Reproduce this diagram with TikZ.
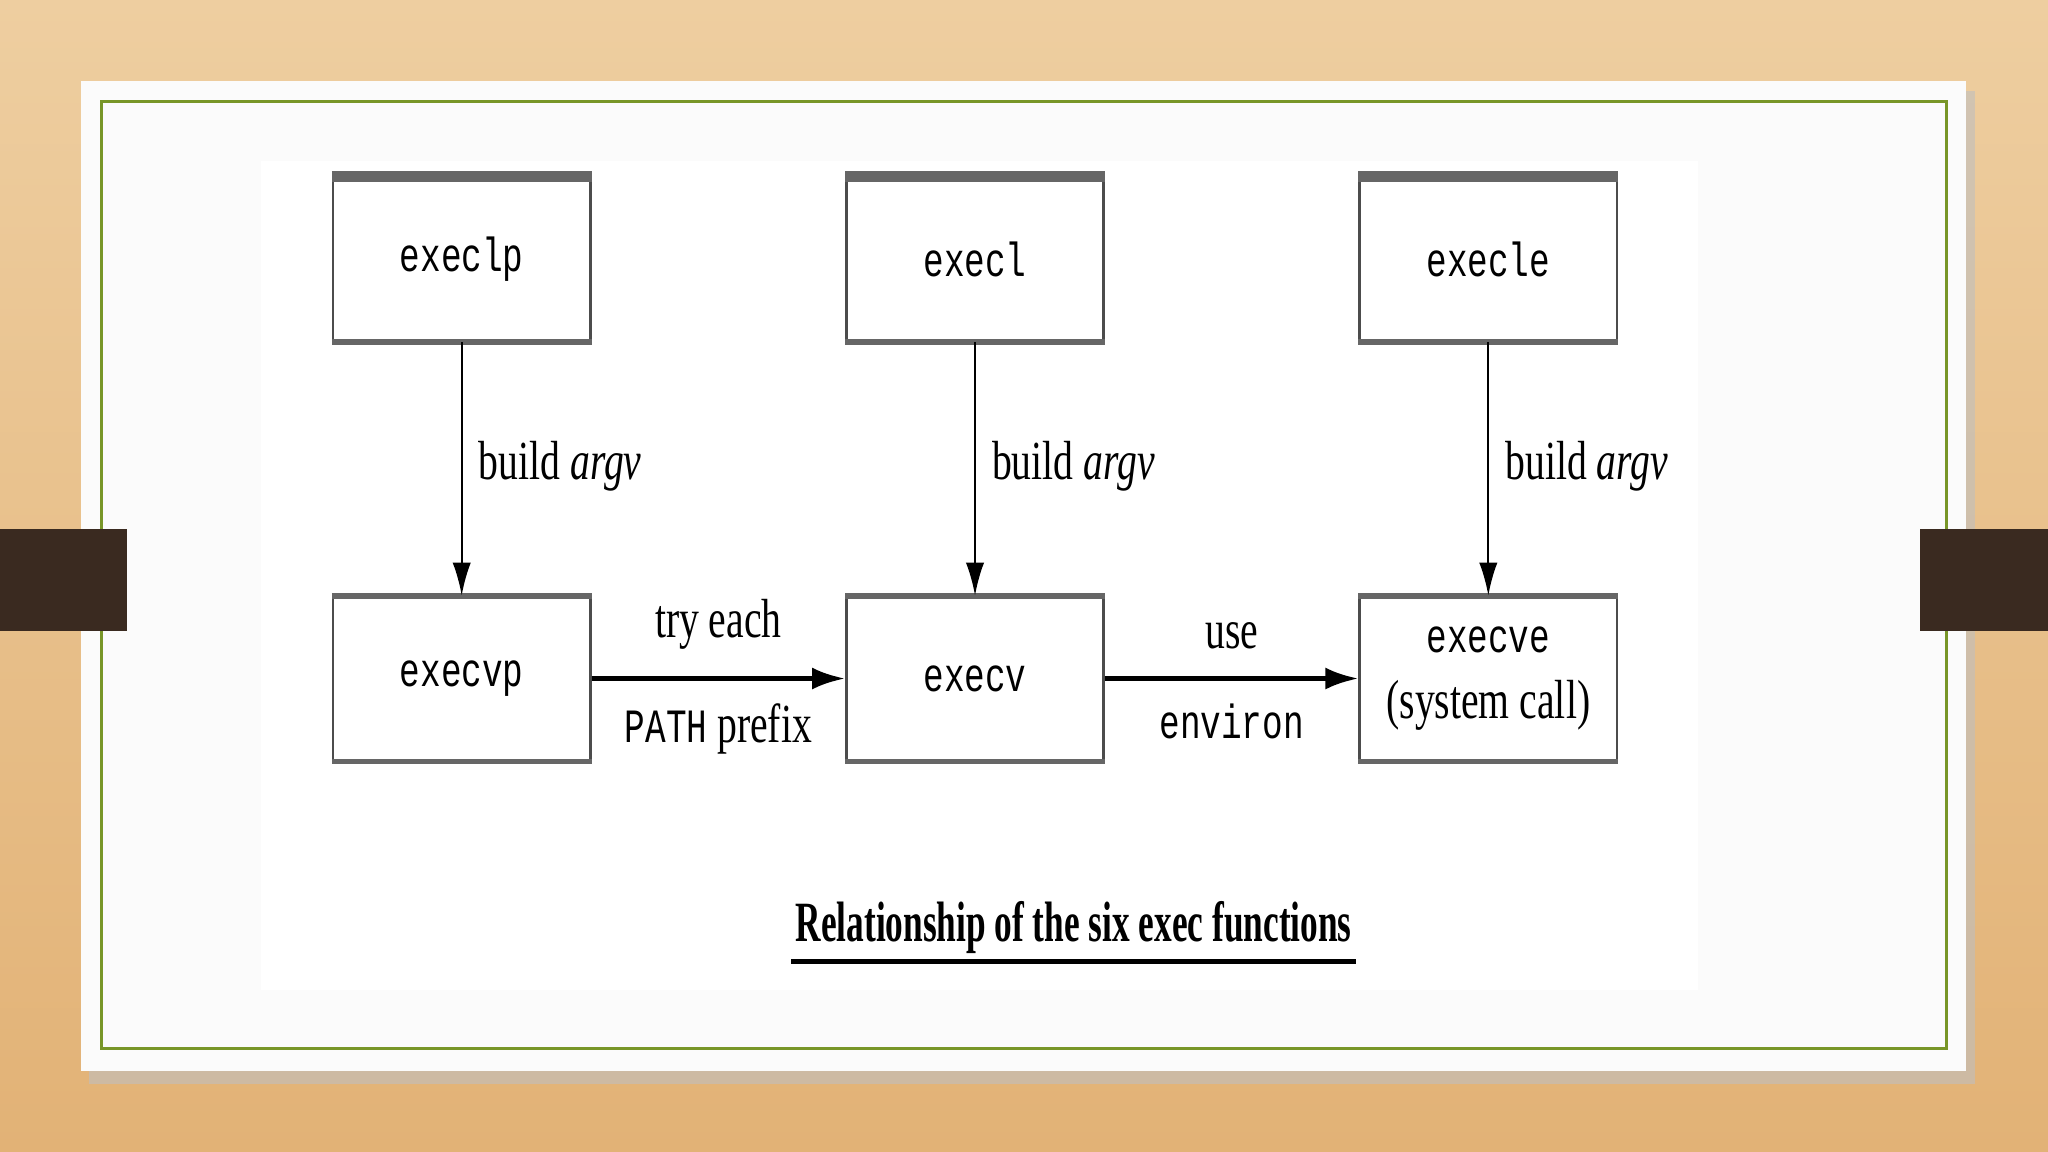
\documentclass[tikz,border=0pt]{standalone}
\usepackage{fontspec}
\setmainfont{Liberation Serif}
\setmonofont{Liberation Mono}
\newfontfamily\cond[FakeStretch=0.72]{Liberation Serif}
\newfontfamily\condt[FakeStretch=0.62]{Liberation Serif}
\newfontfamily\condmono[FakeStretch=0.72]{Liberation Mono}
\usetikzlibrary{arrows.meta}
\definecolor{woodA}{RGB}{226,178,118}
\definecolor{woodB}{RGB}{238,206,160}
\definecolor{tab}{RGB}{58,42,32}
\definecolor{frame}{RGB}{120,150,40}
\begin{document}
\begin{tikzpicture}[x=0.0125cm,y=-0.0125cm,
  fbox/.style={draw=black!70,line width=0.7pt,fill=white,minimum width=197*0.0125cm,minimum height=125*0.0125cm,inner sep=0pt,font=\condmono\fontsize{13}{15}\selectfont,align=center},
  conn/.style={-{Latex[length=9pt,width=5pt]},line width=0.6pt},
  hconn/.style={-{Latex[length=9pt,width=6pt]},line width=1.3pt},
  lbl/.style={font=\cond\fontsize{15}{18}\selectfont,align=center}]
\useasboundingbox (0,0) rectangle (1568,882);
\shade[top color=woodB,bottom color=woodA] (0,0) rectangle (1568,882);
\fill[black!25,opacity=0.6] (68,70) rectangle (1512,830);
\fill[white!97!gray] (62,62) rectangle (1505,820);
\draw[frame,line width=0.8pt] (78,78) rectangle (1490,803);
\fill[tab] (0,405) rectangle (97,483);
\fill[tab] (1470,405) rectangle (1568,483);
\fill[white] (200,123) rectangle (1300,758);
% boxes
\node[fbox] (lp) at (353.5,198.5) {execlp};
\node[fbox] (l) at (746.5,198.5) {execl};
\node[fbox] (le) at (1139.5,198.5) {execle};
\node[fbox] (vp) at (353.5,519.5) {execvp};
\node[fbox] (v) at (746.5,519.5) {execv};
\node[fbox] (ve) at (1139.5,519.5) {execve\\[3pt]{\cond\fontsize{15}{18}\selectfont (system call)}};
\foreach \n in {lp,l,le}{\draw[black!60,line width=3pt] (\n.north west) -- (\n.north east);}
\foreach \n in {vp,v,ve}{\draw[black!60,line width=1.6pt] (\n.north west) -- (\n.north east);
 \draw[black!60,line width=1.4pt] (\n.south west) -- (\n.south east);}
\foreach \n in {lp,l,le}{\draw[black!60,line width=1.8pt] (\n.south west) -- (\n.south east);}
\draw[conn] (lp) -- node[lbl,right,xshift=1pt,pos=0.49]{build \textit{argv}} (vp);
\draw[conn] (l) -- node[lbl,right,xshift=1pt,pos=0.49]{build \textit{argv}} (v);
\draw[conn] (le) -- node[lbl,right,xshift=1pt,pos=0.49]{build \textit{argv}} (ve);
\draw[hconn] (vp) -- node[lbl,above=4pt]{try each} node[lbl,below=3pt]{{\condmono\fontsize{13}{15}\selectfont PATH} prefix} (v);
\draw[hconn] (v) -- node[lbl,above=4pt]{use} node[lbl,below=3pt,font=\condmono\fontsize{13}{15}\selectfont]{environ} (ve);
\node[font=\condt\bfseries\fontsize{15.5}{18}\selectfont,inner sep=1pt] (t) at (822,710) {Relationship of the six exec functions};
\draw[line width=1.6pt] ([yshift=-1pt]t.south west) -- ([yshift=-1pt]t.south east);
\end{tikzpicture}
\end{document}
